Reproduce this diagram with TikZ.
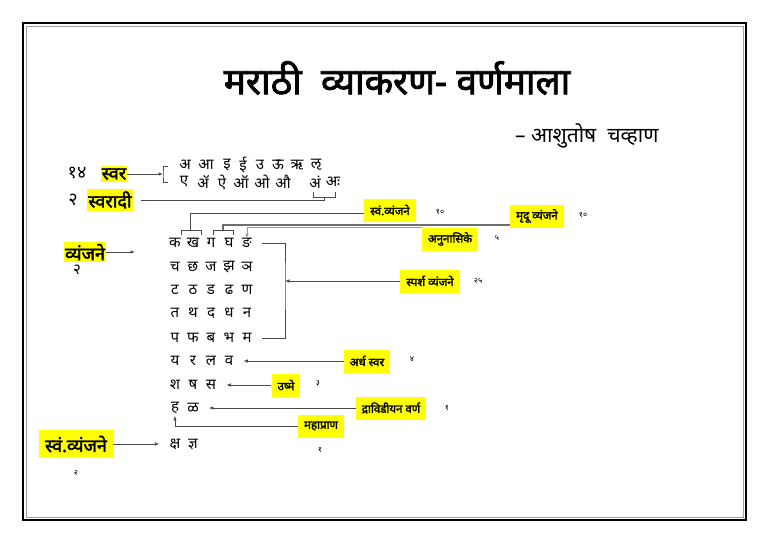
\documentclass[tikz,border=0pt]{standalone}
\usepackage{fontspec}
\newfontfamily\deva[Script=Devanagari]{Noto Sans}
\newfontfamily\devab[Script=Devanagari, FakeBold=2.2]{Noto Sans}
\usetikzlibrary{arrows.meta}
\definecolor{markyellow}{HTML}{FFFF00}
\definecolor{linegray}{HTML}{4A4A4A}
\definecolor{midgray}{HTML}{6E6E6E}
\definecolor{lightline}{HTML}{9A9A9A}
\definecolor{framegray}{HTML}{A0A0A0}
\tikzset{
	letter/.style={inner sep=0pt, font=\deva\fontsize{15}{17}\selectfont},
	bigtag/.style={fill=markyellow, inner xsep=1pt, inner ysep=2pt, font=\devab\fontsize{18}{21}\selectfont},
	smalltag/.style={fill=markyellow, minimum height=23pt, inner xsep=6pt, font=\devab\fontsize{11.5}{13}\selectfont},
	bignum/.style={inner sep=0pt, font=\deva\fontsize{18}{21}\selectfont},
	count/.style={inner sep=0pt, font=\deva\fontsize{8}{9}\selectfont},
	conn/.style={draw=linegray, line width=0.7pt},
	pointer/.style={conn, -{Latex[length=4.5pt,width=3.5pt]}},
}

\begin{document}
\begin{tikzpicture}[x=1pt,y=-1pt]
	% Fixed canvas in pixel units, y grows downwards.
	\path[use as bounding box] (0,0) rectangle (768,543);
	\fill[white] (0,0) rectangle (768,543);

	% Slide frame.
	\draw[black, line width=2.6pt] (23,23) rectangle (746,520);
	\draw[framegray, line width=0.6pt] (26,26) rectangle (743,517);

	% Title and author.
	\node[font=\devab\fontsize{37}{42}\selectfont] (title) at (397,78)
		{मराठी\ \ व्याकरण- वर्णमाला};
	\node[anchor=east, font=\deva\fontsize{21}{24}\selectfont] (author) at (662,136)
		{– आशुतोष\ \ चव्हाण};

	% Vowels: two rows.
	\foreach \v/\x [count=\i] in {अ/185,आ/206,इ/227,ई/243,उ/260,ऊ/278,ऋ/297,ऌ/316}
		\node[letter] (va-\i) at (\x,165) {\v};
	\foreach \v/\x [count=\i] in {ए/184,ॲ/203,ऐ/222,ऑ/241,ओ/262,औ/283,अं/315,अः/333}
		\node[letter] (vb-\i) at (\x,182) {\v};

	% Consonants, one row per group.
	\foreach \row/\y/\list in {ka/243/{क,ख,ग,घ,ङ},ca/267/{च,छ,ज,झ,ञ},tta/290/{ट,ठ,ड,ढ,ण},
			ta/313/{त,थ,द,ध,न},pa/338/{प,फ,ब,भ,म},ya/361/{य,र,ल,व},sha/385/{श,ष,स},
			ha/408/{ह,ळ},ksha/444/{क्ष,ज्ञ}} {
		\foreach \c [count=\i] in \list
			\node[letter] (\row-\i) at ({157+18*\i},\y) {\c};
	}

	% Left column labels.
	\node[bignum] (n-svara) at (77,173) {१४};
	\node[bigtag] (svara) at (114,174) {स्वर};
	\node[bignum] (n-svaradi) at (73,200) {२};
	\node[bigtag] (svaradi) at (110,200) {स्वरादी};
	\node[bigtag] (vyanj) at (85,252) {व्यंजने};
	\node[letter] (n-vyanj) at (77,270) {२};
	\node[bigtag, inner xsep=6pt, inner ysep=6pt] (svyanjb) at (76,444) {स्वं.व्यंजने};
	\node[count] (n-svyanjb) at (76,473) {२};

	% Right column labels with counts.
	\node[smalltag] (svyanj) at (390,210) {स्वं.व्यंजने};
	\node[count] (n-svyanj) at (440,212) {१०};
	\node[smalltag] (mrudu) at (537,216) {मृदू व्यंजने};
	\node[count] (n-mrudu) at (583,215) {१०};
	\node[smalltag] (anunasik) at (450,239) {अनुनासिके};
	\node[count] (n-anunasik) at (497,238) {५};
	\node[smalltag] (sparsh) at (430,281) {स्पर्श व्यंजने};
	\node[count] (n-sparsh) at (478,281) {२५};
	\node[smalltag] (ardh) at (367,361) {अर्ध स्वर};
	\node[count] (n-ardh) at (412,359) {४};
	\node[smalltag] (ushme) at (286,385) {उष्मे};
	\node[count] (n-ushme) at (318,383) {३};
	\node[smalltag] (dravid) at (391,408) {द्राविडीयन वर्ण};
	\node[count] (n-dravid) at (447,408) {१};
	\node[smalltag] (mahapran) at (321,426) {महाप्राण};
	\node[count] (n-mahapran) at (320,450) {१};

	% Vowel brackets.
	\coordinate (vowbr) at (163,174);
	\draw[conn] (168,166) -| (vowbr) |- (168,182);
	\draw[pointer] (svara.east) -- (vowbr);
	\coordinate (anbr) at (324,197);
	\draw[conn] (313,192) |- (335,197) -- (335,192);
	\draw[conn] ([xshift=8pt]svaradi.east) -| (anbr);

	% Brackets over the first consonant row.
	\coordinate (kkbr) at (190,230);
	\draw[conn] (181,235) |- (201,230) -- (201,235);
	\draw[conn] (kkbr) |- ([yshift=-3pt]svyanj.west);
	\coordinate (ggbr) at (223,230);
	\draw[conn] (213,235) |- (233,230) -- (233,235);
	\draw[conn, draw=midgray, line width=1.3pt] (ggbr) |- ([yshift=-9pt]mrudu.west);
	\draw[pointer, draw=lightline] (anunasik.north west) -| (ka-5.north);

	% Sparsh bracket over the 25 consonants.
	\coordinate (spbr) at (285,281);
	\draw[conn] ([xshift=10pt]ka-5.east) -| (spbr) |- ([xshift=10pt]pa-5.east);
	\draw[pointer] (sparsh.west) -- (spbr);

	% Pointers to the remaining rows.
	\coordinate (vyarr) at (135,252);
	\draw[pointer] (vyanj.east) -- (vyarr);
	\draw[pointer, shorten >=10pt] (ardh.west) -- (ya-4.east);
	\draw[pointer, shorten >=10pt] (ushme.west) -- (sha-3.east);
	\draw[pointer, shorten >=10pt] (dravid.west) -- (ha-2.east);
	\draw[pointer, shorten >=2pt] (mahapran.west) -| (ha-1.south);
	\draw[pointer, shorten >=10pt] (svyanjb.east) -- (ksha-1.west);
\end{tikzpicture}
\end{document}
